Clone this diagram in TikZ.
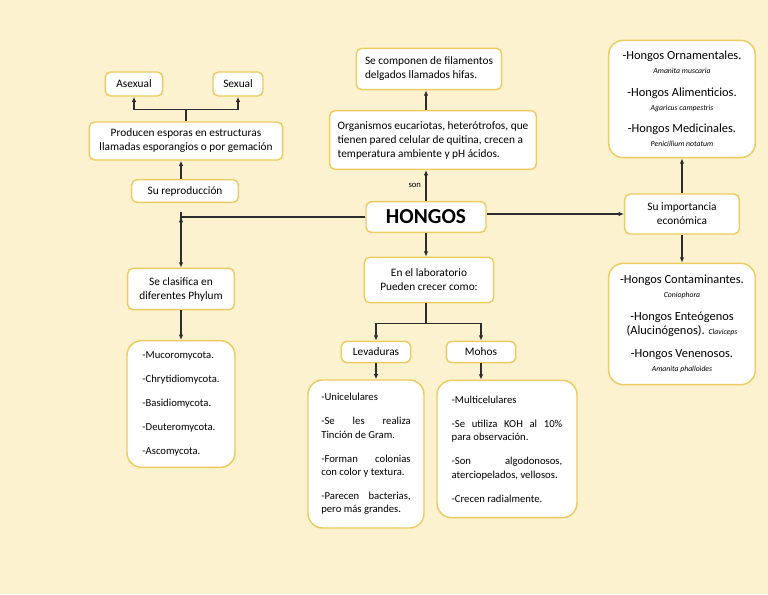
\documentclass[tikz,border=0pt]{standalone}
\usepackage{fontspec}
\setmainfont{Carlito}
\usetikzlibrary{
    positioning, % relative placement
    arrows.meta, % Latex tips
    calc
}

\definecolor{paper}{RGB}{253,242,208}
\definecolor{boxline}{RGB}{236,204,96}
\definecolor{wirecol}{RGB}{45,45,45}

% species names, small italic
\newcommand{\spp}[1]{{\fontsize{5.8}{6.5}\selectfont\itshape #1}}
% gap between items of a list
\newcommand{\gap}{\par\vspace{8pt}}

\begin{document}
\begin{tikzpicture}[
        x=0.75pt, y=-0.75pt,
        >={Latex[length=4pt,width=3.5pt]},
        % Styles
        box/.style={draw=boxline, fill=white, line width=1.1pt, rounded corners=4pt,
            align=center, inner sep=2pt, font=\fontsize{8.5}{10.5}\selectfont},
        listbox/.style={box, rounded corners=11pt},
        uses/.style={listbox, font=\fontsize{9.3}{10.5}\selectfont},
        link/.style={->, draw=wirecol, line width=0.8pt},
        plain/.style={draw=wirecol, line width=0.8pt}
    ]

    % --- Background ---
    \fill[paper] (0,0) rectangle (768,594);
    \useasboundingbox (0,0) rectangle (768,594);

    % --- Centre ---
    \node[box, minimum width=90pt, minimum height=23pt,
        font=\fontsize{16}{18}\selectfont\bfseries] (hongos) at (426,217) {HONGOS};

    % --- Upper middle ---
    \node[box, align=left, minimum width=155pt, minimum height=44pt] (organ) at (433,140)
        {Organismos eucariotas, heterótrofos, que\\tienen pared celular de quitina, crecen a\\temperatura ambiente y pH ácidos.};
    \node[box, align=left, minimum width=109pt, minimum height=31pt] (compo) at (429,69)
        {Se componen de filamentos\\delgados llamados hifas.};

    % --- Left branch ---
    \node[box, minimum width=80pt, minimum height=17pt] (repro) at (185,191) {Su reproducción};
    \node[box, minimum width=145pt, minimum height=28.5pt] (espor) at (186,141)
        {Producen esporas en estructuras\\llamadas esporangios o por gemación};
    \node[box, minimum width=43pt, minimum height=18pt] (asex) at (134,84) {Asexual};
    \node[box, minimum width=37.5pt, minimum height=18pt] (sexl) at (238,84) {Sexual};

    \node[box, minimum width=80pt, minimum height=31pt] (clasi) at (181,289)
        {Se clasifica en\\diferentes Phylum};
    \node[listbox, align=left, minimum width=81pt, minimum height=95pt,
        font=\fontsize{8}{18}\selectfont] (phyl) at (181,404)
        {-Mucoromycota.\\-Chrytidiomycota.\\-Basidiomycota.\\-Deuteromycota.\\-Ascomycota.};

    % --- Lower middle ---
    \node[box, minimum width=97pt, minimum height=34pt] (labo) at (429,280)
        {En el laboratorio\\Pueden crecer como:};
    \node[box, minimum width=52pt, minimum height=16pt] (leva) at (376,352) {Levaduras};
    \node[box, minimum width=52pt, minimum height=16pt] (moho) at (481,352) {Mohos};

    \node[listbox, align=justify, text width=67pt, inner xsep=10pt, inner ysep=7pt,
        minimum height=111pt, font=\fontsize{8}{10}\selectfont] (leval) at (366,454)
        {-Unicelulares\gap
         -Se les realiza\linebreak Tinción de Gram.\gap
         -Forman colonias\linebreak con color y textura.\gap
         -Parecen bacterias,\linebreak pero más grandes.};
    \node[listbox, align=justify, text width=83pt, inner xsep=11pt, inner ysep=7pt,
        minimum height=103pt, font=\fontsize{8}{10}\selectfont] (mohol) at (507,449)
        {-Multicelulares\gap
         -Se utiliza KOH al 10\%\linebreak para observación.\gap
         -Son algodonosos,\linebreak aterciopelados, vellosos.\gap
         -Crecen radialmente.};

    % --- Right branch ---
    \node[box, minimum width=86pt, minimum height=30pt] (impo) at (682,214)
        {Su importancia\\económica};
    \node[uses, minimum width=110pt, minimum height=88pt] (orna) at (682,99)
        {-Hongos Ornamentales.\\\spp{Amanita muscaria}\\[6.5pt]
         -Hongos Alimenticios.\\\spp{Agaricus campestris}\\[6.5pt]
         -Hongos Medicinales.\\\spp{Penicillium notatum}};
    \node[uses, minimum width=110pt, minimum height=91pt] (conta) at (682,324)
        {-Hongos Contaminantes.\\\spp{Coniophora}\\[7pt]
         -Hongos Enteógenos\\(Alucinógenos). \spp{Claviceps}\\[7pt]
         -Hongos Venenosos.\\\spp{Amanita phalloides}};

    % --- Connectors ---
    \draw[link] (hongos.north) -- node[left, font=\fontsize{6.5}{7}\selectfont] {son}
        (hongos.north |- organ.south);
    \draw[link] (hongos.north |- organ.north) -- (hongos.north |- compo.south);

    \draw[link] (hongos.west) -| (clasi.north);
    \draw[link] (hongos.west -| clasi.north) -- (hongos.west -| clasi.north |- repro.south);
    \draw[link] (repro.north -| clasi.north) -- (clasi.north |- espor.south);
    \draw[plain] (espor.north) -- ++(0,-12) coordinate (esplit);
    \draw[link] (esplit) -| (asex.south);
    \draw[link] (esplit) -| (sexl.south);
    \draw[link] (clasi.south) -- (phyl.north);

    \draw[link] (hongos.east |- impo.west) -- (impo.west);
    \draw[link] (impo.north) -- (orna.south);
    \draw[link] (impo.south) -- (conta.north);

    \draw[link] (hongos.south) -- (hongos.south |- labo.north);
    \draw[plain] (hongos.south |- labo.south) -- ++(0,20) coordinate (lsplit);
    \draw[link] (lsplit) -| (leva.north);
    \draw[link] (lsplit) -| (moho.north);
    \draw[link] (leva.south) -- (leva.south |- leval.north);
    \draw[link] (moho.south) -- (moho.south |- mohol.north);

\end{tikzpicture}
\end{document}
